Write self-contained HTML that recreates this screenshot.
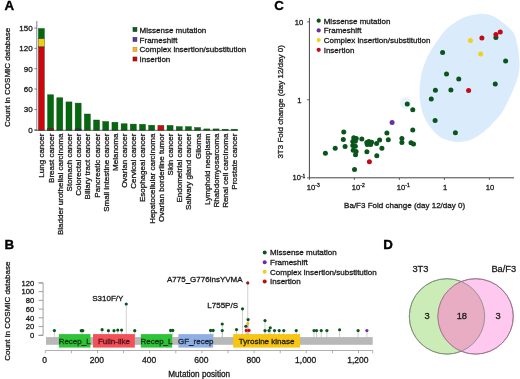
<!DOCTYPE html>
<html><head><meta charset="utf-8"><title>Figure</title>
<style>
html,body{margin:0;padding:0;background:#fff;}
body{width:520px;height:379px;overflow:hidden;}
svg{display:block;font-family:"Liberation Sans",Arial,sans-serif;fill:#1a1a1a;}
text{stroke:#1a1a1a;stroke-width:0.3px;paint-order:stroke;}
.t8{font-size:8px;}
.t7{font-size:7.6px;}
.t9{font-size:9.3px;}
.pl{font-size:13.3px;font-weight:bold;fill:#000;stroke:#000;stroke-width:0.35px;}
</style></head><body>
<svg width="520" height="379" viewBox="0 0 520 379">
<rect width="520" height="379" fill="#fff"/>

<g id="panelA">
<text class="pl" x="4.4" y="10.1">A</text>
<line x1="36.8" y1="21" x2="36.8" y2="130.4" stroke="#3a3f55" stroke-width="0.65"/>
<line x1="34.4" y1="129.80" x2="36.8" y2="129.80" stroke="#3a3f55" stroke-width="0.65"/>
<text class="t8" x="32.6" y="132.70" text-anchor="end">0</text>
<line x1="34.4" y1="109.44" x2="36.8" y2="109.44" stroke="#3a3f55" stroke-width="0.65"/>
<text class="t8" x="32.6" y="112.34" text-anchor="end">30</text>
<line x1="34.4" y1="89.08" x2="36.8" y2="89.08" stroke="#3a3f55" stroke-width="0.65"/>
<text class="t8" x="32.6" y="91.98" text-anchor="end">60</text>
<line x1="34.4" y1="68.72" x2="36.8" y2="68.72" stroke="#3a3f55" stroke-width="0.65"/>
<text class="t8" x="32.6" y="71.62" text-anchor="end">90</text>
<line x1="34.4" y1="48.36" x2="36.8" y2="48.36" stroke="#3a3f55" stroke-width="0.65"/>
<text class="t8" x="32.6" y="51.26" text-anchor="end">120</text>
<line x1="34.4" y1="28.00" x2="36.8" y2="28.00" stroke="#3a3f55" stroke-width="0.65"/>
<text class="t8" x="32.6" y="30.90" text-anchor="end">150</text>
<text class="t8" transform="translate(10.3,77.4) rotate(-90)" text-anchor="middle">Count in COSMIC database</text>
<g stroke="#043c0a" stroke-opacity="0.75" stroke-width="0.5">
<rect x="38.40" y="28.5" width="6.0" height="10.25" fill="#05680f"/>
<rect x="38.40" y="38.75" width="6.0" height="8.15" fill="#f2cc1a"/>
<rect x="38.40" y="46.9" width="6.0" height="83.40" fill="#d0060e"/>
<rect x="47.59" y="94.75" width="6.0" height="35.55" fill="#05680f"/>
<rect x="47.59" y="128.6" width="6.0" height="1.70" fill="#a01818"/>
<rect x="56.78" y="97.75" width="6.0" height="32.55" fill="#05680f"/>
<rect x="65.97" y="101.9" width="6.0" height="28.40" fill="#05680f"/>
<rect x="75.16" y="103.1" width="6.0" height="27.20" fill="#05680f"/>
<rect x="75.16" y="128.9" width="6.0" height="1.40" fill="#3a2a6a"/>
<rect x="84.35" y="114" width="6.0" height="16.30" fill="#05680f"/>
<rect x="93.54" y="120" width="6.0" height="10.30" fill="#05680f"/>
<rect x="102.73" y="121.5" width="6.0" height="8.80" fill="#05680f"/>
<rect x="111.92" y="122.25" width="6.0" height="8.05" fill="#05680f"/>
<rect x="121.11" y="123.75" width="6.0" height="6.55" fill="#05680f"/>
<rect x="130.30" y="124.1" width="6.0" height="6.20" fill="#05680f"/>
<rect x="139.49" y="124.3" width="6.0" height="6.00" fill="#05680f"/>
<rect x="148.68" y="125.2" width="6.0" height="5.10" fill="#05680f"/>
<rect x="157.87" y="125.4" width="6.0" height="4.90" fill="#d0060e"/>
<rect x="167.06" y="125.4" width="6.0" height="4.90" fill="#05680f"/>
<rect x="176.25" y="126.6" width="6.0" height="3.70" fill="#05680f"/>
<rect x="185.44" y="126.6" width="6.0" height="3.70" fill="#05680f"/>
<rect x="194.63" y="127.5" width="6.0" height="2.80" fill="#05680f"/>
<rect x="203.82" y="128.9" width="6.0" height="1.40" fill="#05680f"/>
<rect x="213.01" y="128.9" width="6.0" height="1.40" fill="#05680f"/>
<rect x="222.20" y="129.2" width="6.0" height="1.10" fill="#05680f"/>
<rect x="231.39" y="129.2" width="6.0" height="1.10" fill="#05680f"/>
</g>
<text class="t8" transform="translate(44.40,133.6) rotate(-90)" text-anchor="end">Lung cancer</text>
<text class="t8" transform="translate(53.59,133.6) rotate(-90)" text-anchor="end">Breast cancer</text>
<text class="t8" transform="translate(62.78,133.6) rotate(-90)" text-anchor="end">Bladder urothelial carcinoma</text>
<text class="t8" transform="translate(71.97,133.6) rotate(-90)" text-anchor="end">Stomach cancer</text>
<text class="t8" transform="translate(81.16,133.6) rotate(-90)" text-anchor="end">Colorectal cancer</text>
<text class="t8" transform="translate(90.35,133.6) rotate(-90)" text-anchor="end">Biliary tract cancer</text>
<text class="t8" transform="translate(99.54,133.6) rotate(-90)" text-anchor="end">Pancreatic cancer</text>
<text class="t8" transform="translate(108.73,133.6) rotate(-90)" text-anchor="end">Small intestine cancer</text>
<text class="t8" transform="translate(117.92,133.6) rotate(-90)" text-anchor="end">Melanoma</text>
<text class="t8" transform="translate(127.11,133.6) rotate(-90)" text-anchor="end">Ovarian cancer</text>
<text class="t8" transform="translate(136.30,133.6) rotate(-90)" text-anchor="end">Cervical cancer</text>
<text class="t8" transform="translate(145.49,133.6) rotate(-90)" text-anchor="end">Esophageal cancer</text>
<text class="t8" transform="translate(154.68,133.6) rotate(-90)" text-anchor="end">Hepatocellular carcinoma</text>
<text class="t8" transform="translate(163.87,133.6) rotate(-90)" text-anchor="end">Ovarian borderline tumor</text>
<text class="t8" transform="translate(173.06,133.6) rotate(-90)" text-anchor="end">Skin cancer</text>
<text class="t8" transform="translate(182.25,133.6) rotate(-90)" text-anchor="end">Endometrial cancer</text>
<text class="t8" transform="translate(191.44,133.6) rotate(-90)" text-anchor="end">Salivary gland cancer</text>
<text class="t8" transform="translate(200.63,133.6) rotate(-90)" text-anchor="end">Glioma</text>
<text class="t8" transform="translate(209.82,133.6) rotate(-90)" text-anchor="end">Lymphoid neoplasm</text>
<text class="t8" transform="translate(219.01,133.6) rotate(-90)" text-anchor="end">Rhabdomyosarcoma</text>
<text class="t8" transform="translate(228.20,133.6) rotate(-90)" text-anchor="end">Renal cell carcinoma</text>
<text class="t8" transform="translate(237.39,133.6) rotate(-90)" text-anchor="end">Prostate cancer</text>
<line x1="34.4" y1="130.3" x2="238" y2="130.3" stroke="#222" stroke-width="0.7"/>
<rect x="133" y="27.50" width="3.9" height="4.0" fill="#0d5e1c" stroke="#0a3a12" stroke-width="0.6"/>
<text class="t8" x="139.6" y="33.40">Missense mutation</text>
<rect x="133" y="37.40" width="3.9" height="4.0" fill="#5a3c9a" stroke="#3a2a6a" stroke-width="0.6"/>
<text class="t8" x="139.6" y="42.85">Frameshift</text>
<rect x="133" y="47.30" width="3.9" height="4.0" fill="#f5b92a" stroke="#c08a20" stroke-width="0.6"/>
<text class="t8" x="139.6" y="52.30">Complex insertion/substitution</text>
<rect x="133" y="57.00" width="3.9" height="4.0" fill="#b41414" stroke="#7a0c0c" stroke-width="0.6"/>
<text class="t8" x="139.6" y="61.75">Insertion</text>
</g>
<g id="panelC">
<text class="pl" x="274.3" y="10.4">C</text>
<path d="M480.0,13.9 C482.9,13.7 485.1,14.0 487.7,14.6 C490.3,15.2 492.8,16.0 495.4,17.3 C497.9,18.7 500.4,20.6 503.0,22.7 C505.6,24.8 508.8,27.4 510.8,29.6 C512.8,31.8 513.8,32.9 515.0,36.0 C516.2,39.1 517.3,44.0 518.0,48.0 C518.7,52.0 519.1,56.3 519.3,60.0 C519.5,63.7 519.6,66.7 519.2,70.0 C518.8,73.3 518.2,76.2 517.0,80.0 C515.8,83.8 514.0,88.0 512.0,92.5 C510.0,97.0 507.0,103.2 505.0,107.0 C503.0,110.8 502.5,111.8 500.0,115.0 C497.5,118.2 493.3,123.0 490.0,126.2 C486.7,129.5 483.3,132.1 480.0,134.4 C476.7,136.7 473.3,138.8 470.0,140.0 C466.7,141.2 462.9,141.7 460.0,141.9 C457.1,142.1 455.8,142.1 452.5,141.2 C449.2,140.4 444.0,139.6 440.0,136.9 C436.0,134.2 431.7,129.1 428.8,125.0 C425.8,120.9 424.0,116.7 422.5,112.5 C421.0,108.3 420.4,103.8 419.9,100.0 C419.4,96.2 419.4,94.2 419.6,90.0 C419.8,85.8 420.4,79.6 421.2,75.0 C422.1,70.4 423.5,66.4 425.0,62.5 C426.5,58.6 428.0,55.5 430.3,51.5 C432.6,47.5 435.9,42.6 438.8,38.8 C441.6,34.9 444.0,31.3 447.5,28.1 C451.0,24.9 456.2,21.5 460.0,19.4 C463.8,17.3 466.7,16.5 470.0,15.6 C473.3,14.7 477.1,14.1 480.0,13.9Z" fill="#daebfc"/>
<circle cx="405.8" cy="102.8" r="5.9" fill="#ebf2fb"/>
<line x1="309.4" y1="18" x2="309.4" y2="178.3" stroke="#444" stroke-width="1"/>
<line x1="308.9" y1="177.8" x2="514" y2="177.8" stroke="#444" stroke-width="1"/>
<line x1="307.0" y1="21.9" x2="309.4" y2="21.9" stroke="#444" stroke-width="0.8"/>
<text class="t7" x="303.3" y="24.6" text-anchor="end">10</text>
<line x1="307.0" y1="99.8" x2="309.4" y2="99.8" stroke="#444" stroke-width="0.8"/>
<text class="t7" x="301.6" y="102.5" text-anchor="end">1</text>
<line x1="307.0" y1="177.8" x2="309.4" y2="177.8" stroke="#444" stroke-width="0.8"/>
<text class="t7" x="305.4" y="180.4" text-anchor="end">10<tspan dy="-2.6" font-size="5px">-1</tspan></text>
<line x1="309.4" y1="177.8" x2="309.4" y2="180.0" stroke="#444" stroke-width="0.8"/>
<text class="t7" x="306.8" y="189.9">10<tspan dy="-2.6" font-size="5px">-3</tspan></text>
<line x1="354.4" y1="177.8" x2="354.4" y2="180.0" stroke="#444" stroke-width="0.8"/>
<text class="t7" x="351.8" y="189.9">10<tspan dy="-2.6" font-size="5px">-2</tspan></text>
<line x1="399.4" y1="177.8" x2="399.4" y2="180.0" stroke="#444" stroke-width="0.8"/>
<text class="t7" x="396.8" y="189.9">10<tspan dy="-2.6" font-size="5px">-1</tspan></text>
<line x1="444.4" y1="177.8" x2="444.4" y2="180.0" stroke="#444" stroke-width="0.8"/>
<text class="t7" x="445.0" y="189.9" text-anchor="middle">1</text>
<line x1="489.4" y1="177.8" x2="489.4" y2="180.0" stroke="#444" stroke-width="0.8"/>
<text class="t7" x="490.0" y="189.9" text-anchor="middle">10</text>
<text class="t8" x="404.6" y="207.7" text-anchor="middle">Ba/F3 Fold change (day 12/day 0)</text>
<text class="t8" transform="translate(282.7,101.9) rotate(-90)" text-anchor="middle">3T3 Fold change (day 12/day 0)</text>
<circle cx="325.4" cy="153.3" r="2.5" fill="#0a551b"/>
<circle cx="335.2" cy="148.3" r="2.5" fill="#0a551b"/>
<circle cx="343.75" cy="132" r="2.5" fill="#0a551b"/>
<circle cx="343.3" cy="139.6" r="2.5" fill="#0a551b"/>
<circle cx="345.1" cy="146.4" r="2.5" fill="#0a551b"/>
<circle cx="353.75" cy="137.8" r="2.5" fill="#0a551b"/>
<circle cx="356.25" cy="138.5" r="2.5" fill="#0a551b"/>
<circle cx="352.8" cy="141.6" r="2.5" fill="#0a551b"/>
<circle cx="355.3" cy="141.25" r="2.5" fill="#0a551b"/>
<circle cx="352.8" cy="145.4" r="2.5" fill="#0a551b"/>
<circle cx="355.3" cy="146.2" r="2.5" fill="#0a551b"/>
<circle cx="353.2" cy="150.2" r="2.5" fill="#0a551b"/>
<circle cx="356.1" cy="151.6" r="2.5" fill="#0a551b"/>
<circle cx="355.5" cy="154.8" r="2.5" fill="#0a551b"/>
<circle cx="361.8" cy="139" r="2.5" fill="#0a551b"/>
<circle cx="366.8" cy="142.5" r="2.5" fill="#0a551b"/>
<circle cx="368.75" cy="141.6" r="2.5" fill="#0a551b"/>
<circle cx="367.3" cy="144.6" r="2.5" fill="#0a551b"/>
<circle cx="371.6" cy="142.2" r="2.5" fill="#0a551b"/>
<circle cx="370.6" cy="144.4" r="2.5" fill="#0a551b"/>
<circle cx="376.6" cy="143.4" r="2.5" fill="#0a551b"/>
<circle cx="379.6" cy="139.9" r="2.5" fill="#0a551b"/>
<circle cx="366.9" cy="151.8" r="2.5" fill="#0a551b"/>
<circle cx="381.9" cy="148.2" r="2.5" fill="#0a551b"/>
<circle cx="376.8" cy="155.7" r="2.5" fill="#0a551b"/>
<circle cx="386.9" cy="133.1" r="2.5" fill="#0a551b"/>
<circle cx="388.3" cy="139.8" r="2.5" fill="#0a551b"/>
<circle cx="354.5" cy="169.5" r="2.5" fill="#0a551b"/>
<circle cx="401.9" cy="138.5" r="2.5" fill="#0a551b"/>
<circle cx="401.9" cy="142.5" r="2.5" fill="#0a551b"/>
<circle cx="411" cy="142.75" r="2.5" fill="#0a551b"/>
<circle cx="413.5" cy="144" r="2.5" fill="#0a551b"/>
<circle cx="412.75" cy="130.1" r="2.5" fill="#0a551b"/>
<circle cx="412.75" cy="109.75" r="2.5" fill="#0a551b"/>
<circle cx="407.25" cy="104.1" r="2.5" fill="#0a551b"/>
<circle cx="442.6" cy="52.5" r="2.5" fill="#0a551b"/>
<circle cx="446.5" cy="74.1" r="2.5" fill="#0a551b"/>
<circle cx="458.75" cy="79" r="2.5" fill="#0a551b"/>
<circle cx="435.4" cy="90.25" r="2.5" fill="#0a551b"/>
<circle cx="450.9" cy="90" r="2.5" fill="#0a551b"/>
<circle cx="431.25" cy="99" r="2.5" fill="#0a551b"/>
<circle cx="435.1" cy="120.6" r="2.5" fill="#0a551b"/>
<circle cx="455.4" cy="132.75" r="2.5" fill="#0a551b"/>
<circle cx="495.25" cy="84" r="2.5" fill="#0a551b"/>
<circle cx="505.6" cy="61" r="2.5" fill="#0a551b"/>
<circle cx="495.9" cy="37.6" r="2.5" fill="#0a551b"/>
<circle cx="369.4" cy="161.8" r="2.5" fill="#c40a18"/>
<circle cx="468.6" cy="90.6" r="2.5" fill="#c40a18"/>
<circle cx="481.9" cy="38.1" r="2.5" fill="#c40a18"/>
<circle cx="495.9" cy="34.4" r="2.5" fill="#c40a18"/>
<circle cx="500.25" cy="31.9" r="2.5" fill="#c40a18"/>
<circle cx="480.6" cy="54" r="2.5" fill="#efd21c"/>
<circle cx="470.4" cy="40.5" r="2.5" fill="#efd21c"/>
<circle cx="392.1" cy="122.5" r="2.5" fill="#6a2fa0"/>
<circle cx="318.7" cy="20.70" r="2.1" fill="#0a551b"/>
<text class="t8" x="323.7" y="23.50">Missense mutation</text>
<circle cx="318.7" cy="30.40" r="2.1" fill="#6a2fa0"/>
<text class="t8" x="323.7" y="33.20">Frameshift</text>
<circle cx="318.7" cy="40.10" r="2.1" fill="#efd21c"/>
<text class="t8" x="323.7" y="42.90">Complex insertion/substitution</text>
<circle cx="318.7" cy="49.80" r="2.1" fill="#c40a18"/>
<text class="t8" x="323.7" y="52.60">Insertion</text>
</g>
<g id="panelB">
<text class="pl" x="4.4" y="248.5">B</text>
<polyline points="38.6,282.9 43.1,282.9 43.1,335.3 38.6,335.3" fill="none" stroke="#8a8a8a" stroke-width="0.8"/>
<line x1="38.6" y1="335.30" x2="43.1" y2="335.30" stroke="#8a8a8a" stroke-width="0.8"/>
<text class="t7" x="34.2" y="338.00" text-anchor="end">0</text>
<line x1="38.6" y1="326.57" x2="43.1" y2="326.57" stroke="#8a8a8a" stroke-width="0.8"/>
<text class="t7" x="34.2" y="329.27" text-anchor="end">20</text>
<line x1="38.6" y1="317.83" x2="43.1" y2="317.83" stroke="#8a8a8a" stroke-width="0.8"/>
<text class="t7" x="34.2" y="320.53" text-anchor="end">40</text>
<line x1="38.6" y1="309.10" x2="43.1" y2="309.10" stroke="#8a8a8a" stroke-width="0.8"/>
<text class="t7" x="34.2" y="311.80" text-anchor="end">60</text>
<line x1="38.6" y1="300.37" x2="43.1" y2="300.37" stroke="#8a8a8a" stroke-width="0.8"/>
<text class="t7" x="34.2" y="303.07" text-anchor="end">80</text>
<line x1="38.6" y1="291.63" x2="43.1" y2="291.63" stroke="#8a8a8a" stroke-width="0.8"/>
<text class="t7" x="34.2" y="294.33" text-anchor="end">100</text>
<line x1="38.6" y1="282.90" x2="43.1" y2="282.90" stroke="#8a8a8a" stroke-width="0.8"/>
<text class="t7" x="34.2" y="285.60" text-anchor="end">120</text>
<text class="t8" transform="translate(10.3,311.25) rotate(-90)" text-anchor="middle">Count in COSMIC database</text>
<line x1="45.3" y1="350.5" x2="372.7" y2="350.5" stroke="#9a9a9a" stroke-width="0.8"/>
<line x1="45.30" y1="350.5" x2="45.30" y2="353.3" stroke="#9a9a9a" stroke-width="0.8"/>
<line x1="71.40" y1="350.5" x2="71.40" y2="353.3" stroke="#9a9a9a" stroke-width="0.8"/>
<line x1="97.50" y1="350.5" x2="97.50" y2="353.3" stroke="#9a9a9a" stroke-width="0.8"/>
<line x1="123.60" y1="350.5" x2="123.60" y2="353.3" stroke="#9a9a9a" stroke-width="0.8"/>
<line x1="149.70" y1="350.5" x2="149.70" y2="353.3" stroke="#9a9a9a" stroke-width="0.8"/>
<line x1="175.80" y1="350.5" x2="175.80" y2="353.3" stroke="#9a9a9a" stroke-width="0.8"/>
<line x1="201.90" y1="350.5" x2="201.90" y2="353.3" stroke="#9a9a9a" stroke-width="0.8"/>
<line x1="228.00" y1="350.5" x2="228.00" y2="353.3" stroke="#9a9a9a" stroke-width="0.8"/>
<line x1="254.10" y1="350.5" x2="254.10" y2="353.3" stroke="#9a9a9a" stroke-width="0.8"/>
<line x1="280.20" y1="350.5" x2="280.20" y2="353.3" stroke="#9a9a9a" stroke-width="0.8"/>
<line x1="306.30" y1="350.5" x2="306.30" y2="353.3" stroke="#9a9a9a" stroke-width="0.8"/>
<line x1="332.40" y1="350.5" x2="332.40" y2="353.3" stroke="#9a9a9a" stroke-width="0.8"/>
<line x1="358.50" y1="350.5" x2="358.50" y2="353.3" stroke="#9a9a9a" stroke-width="0.8"/>
<line x1="372.7" y1="350.5" x2="372.7" y2="353.3" stroke="#9a9a9a" stroke-width="0.8"/>
<text x="44.70" y="363.4" text-anchor="middle" font-size="8.5px">0</text>
<text x="96.90" y="363.4" text-anchor="middle" font-size="8.5px">200</text>
<text x="149.10" y="363.4" text-anchor="middle" font-size="8.5px">400</text>
<text x="201.30" y="363.4" text-anchor="middle" font-size="8.5px">600</text>
<text x="253.50" y="363.4" text-anchor="middle" font-size="8.5px">800</text>
<text x="305.70" y="363.4" text-anchor="middle" font-size="8.5px">1,000</text>
<text x="357.90" y="363.4" text-anchor="middle" font-size="8.5px">1,200</text>
<text x="199.2" y="376.9" text-anchor="middle" font-size="8.2px">Mutation position</text>
<line x1="54.4" y1="330.6" x2="54.4" y2="338" stroke="#bdbdbd" stroke-width="0.7"/>
<line x1="81.25" y1="330.7" x2="81.25" y2="338" stroke="#bdbdbd" stroke-width="0.7"/>
<line x1="82.75" y1="330.7" x2="82.75" y2="338" stroke="#bdbdbd" stroke-width="0.7"/>
<line x1="102.1" y1="329.7" x2="102.1" y2="338" stroke="#bdbdbd" stroke-width="0.7"/>
<line x1="108.4" y1="330.7" x2="108.4" y2="338" stroke="#bdbdbd" stroke-width="0.7"/>
<line x1="114" y1="330.7" x2="114" y2="338" stroke="#bdbdbd" stroke-width="0.7"/>
<line x1="117.75" y1="330.1" x2="117.75" y2="338" stroke="#bdbdbd" stroke-width="0.7"/>
<line x1="121.6" y1="330.1" x2="121.6" y2="338" stroke="#bdbdbd" stroke-width="0.7"/>
<line x1="126.25" y1="304" x2="126.25" y2="338" stroke="#bdbdbd" stroke-width="0.7"/>
<line x1="134.75" y1="330.7" x2="134.75" y2="338" stroke="#bdbdbd" stroke-width="0.7"/>
<line x1="170.6" y1="330.4" x2="170.6" y2="338" stroke="#bdbdbd" stroke-width="0.7"/>
<line x1="172.75" y1="330.4" x2="172.75" y2="338" stroke="#bdbdbd" stroke-width="0.7"/>
<line x1="210.6" y1="330.4" x2="210.6" y2="338" stroke="#bdbdbd" stroke-width="0.7"/>
<line x1="213.1" y1="330.4" x2="213.1" y2="338" stroke="#bdbdbd" stroke-width="0.7"/>
<line x1="222.25" y1="330.6" x2="222.25" y2="338" stroke="#bdbdbd" stroke-width="0.7"/>
<line x1="222.25" y1="324" x2="222.25" y2="338" stroke="#bdbdbd" stroke-width="0.7"/>
<line x1="236.5" y1="329.6" x2="236.5" y2="338" stroke="#bdbdbd" stroke-width="0.7"/>
<line x1="242.5" y1="308.8" x2="242.5" y2="338" stroke="#bdbdbd" stroke-width="0.7"/>
<line x1="247.75" y1="282.9" x2="247.75" y2="338" stroke="#bdbdbd" stroke-width="0.7"/>
<line x1="248.1" y1="319.6" x2="248.1" y2="338" stroke="#bdbdbd" stroke-width="0.7"/>
<line x1="247.75" y1="323.5" x2="247.75" y2="338" stroke="#bdbdbd" stroke-width="0.7"/>
<line x1="245.9" y1="326.25" x2="245.9" y2="338" stroke="#bdbdbd" stroke-width="0.7"/>
<line x1="246.25" y1="330.4" x2="246.25" y2="338" stroke="#bdbdbd" stroke-width="0.7"/>
<line x1="249" y1="330.4" x2="249" y2="338" stroke="#bdbdbd" stroke-width="0.7"/>
<line x1="265" y1="330.6" x2="265" y2="338" stroke="#bdbdbd" stroke-width="0.7"/>
<line x1="265" y1="320.6" x2="265" y2="338" stroke="#bdbdbd" stroke-width="0.7"/>
<line x1="269" y1="330.6" x2="269" y2="338" stroke="#bdbdbd" stroke-width="0.7"/>
<line x1="270.25" y1="327.75" x2="270.25" y2="338" stroke="#bdbdbd" stroke-width="0.7"/>
<line x1="274.5" y1="330.6" x2="274.5" y2="338" stroke="#bdbdbd" stroke-width="0.7"/>
<line x1="279.2" y1="330.6" x2="279.2" y2="338" stroke="#bdbdbd" stroke-width="0.7"/>
<line x1="283.75" y1="330.6" x2="283.75" y2="338" stroke="#bdbdbd" stroke-width="0.7"/>
<line x1="296.25" y1="330.6" x2="296.25" y2="338" stroke="#bdbdbd" stroke-width="0.7"/>
<line x1="314" y1="330.6" x2="314" y2="338" stroke="#bdbdbd" stroke-width="0.7"/>
<line x1="316.5" y1="330.6" x2="316.5" y2="338" stroke="#bdbdbd" stroke-width="0.7"/>
<line x1="321.25" y1="330.6" x2="321.25" y2="338" stroke="#bdbdbd" stroke-width="0.7"/>
<line x1="326.9" y1="330.6" x2="326.9" y2="338" stroke="#bdbdbd" stroke-width="0.7"/>
<line x1="339.6" y1="329.75" x2="339.6" y2="338" stroke="#bdbdbd" stroke-width="0.7"/>
<line x1="358.1" y1="330.6" x2="358.1" y2="338" stroke="#bdbdbd" stroke-width="0.7"/>
<line x1="366.9" y1="330.6" x2="366.9" y2="338" stroke="#bdbdbd" stroke-width="0.7"/>
<rect x="46" y="337.1" width="326.7" height="7.7" fill="#b8b8b8"/>
<rect x="58.87" y="334.1" width="31.58" height="13.5" fill="#2fc436"/>
<text class="t8" x="74.66" y="343.8" text-anchor="middle" fill="#0a4a10" stroke="#0a4a10">Recep_L</text>
<rect x="93.06" y="334.1" width="41.76" height="13.5" fill="#f4505a"/>
<text class="t8" x="113.94" y="343.8" text-anchor="middle" fill="#6a0a12" stroke="#6a0a12">Fulin-like</text>
<rect x="140.83" y="334.1" width="31.32" height="13.5" fill="#2fc436"/>
<text class="t8" x="156.49" y="343.8" text-anchor="middle" fill="#0a4a10" stroke="#0a4a10">Recep_L</text>
<rect x="178.41" y="334.1" width="34.71" height="13.5" fill="#8faee2"/>
<text class="t8" x="195.77" y="343.8" text-anchor="middle" fill="#16284e" stroke="#16284e">GF_recep</text>
<rect x="233.22" y="334.1" width="66.82" height="13.5" fill="#f7c512"/>
<text class="t8" x="266.63" y="343.8" text-anchor="middle" fill="#2a2000" stroke="#2a2000">Tyrosine kinase</text>
<circle cx="54.4" cy="330.6" r="1.6" fill="#0a551b"/>
<circle cx="81.25" cy="330.7" r="1.6" fill="#0a551b"/>
<circle cx="82.75" cy="330.7" r="1.6" fill="#0a551b"/>
<circle cx="102.1" cy="329.7" r="1.6" fill="#0a551b"/>
<circle cx="108.4" cy="330.7" r="1.6" fill="#0a551b"/>
<circle cx="114" cy="330.7" r="1.6" fill="#0a551b"/>
<circle cx="117.75" cy="330.1" r="1.6" fill="#0a551b"/>
<circle cx="121.6" cy="330.1" r="1.6" fill="#0a551b"/>
<circle cx="126.25" cy="304" r="1.6" fill="#0a551b"/>
<circle cx="134.75" cy="330.7" r="1.6" fill="#0a551b"/>
<circle cx="170.6" cy="330.4" r="1.6" fill="#0a551b"/>
<circle cx="172.75" cy="330.4" r="1.6" fill="#0a551b"/>
<circle cx="210.6" cy="330.4" r="1.6" fill="#0a551b"/>
<circle cx="213.1" cy="330.4" r="1.6" fill="#0a551b"/>
<circle cx="222.25" cy="330.6" r="1.6" fill="#0a551b"/>
<circle cx="222.25" cy="324" r="1.6" fill="#0a551b"/>
<circle cx="236.5" cy="329.6" r="1.6" fill="#0a551b"/>
<circle cx="242.5" cy="308.8" r="1.6" fill="#0a551b"/>
<circle cx="247.75" cy="282.9" r="1.6" fill="#8a1a22"/>
<circle cx="248.1" cy="319.6" r="1.6" fill="#0a551b"/>
<circle cx="247.75" cy="323.5" r="1.6" fill="#f0b81a"/>
<circle cx="245.9" cy="326.25" r="1.6" fill="#0a551b"/>
<circle cx="246.25" cy="330.4" r="1.6" fill="#d0060e"/>
<circle cx="249" cy="330.4" r="1.6" fill="#d0060e"/>
<circle cx="265" cy="330.6" r="1.6" fill="#0a551b"/>
<circle cx="265" cy="320.6" r="1.6" fill="#0a551b"/>
<circle cx="269" cy="330.6" r="1.6" fill="#0a551b"/>
<circle cx="270.25" cy="327.75" r="1.6" fill="#0a551b"/>
<circle cx="274.5" cy="330.6" r="1.6" fill="#0a551b"/>
<circle cx="279.2" cy="330.6" r="1.6" fill="#0a551b"/>
<circle cx="283.75" cy="330.6" r="1.6" fill="#0a551b"/>
<circle cx="296.25" cy="330.6" r="1.6" fill="#0a551b"/>
<circle cx="314" cy="330.6" r="1.6" fill="#0a551b"/>
<circle cx="316.5" cy="330.6" r="1.6" fill="#0a551b"/>
<circle cx="321.25" cy="330.6" r="1.6" fill="#0a551b"/>
<circle cx="326.9" cy="330.6" r="1.6" fill="#0a551b"/>
<circle cx="339.6" cy="329.75" r="1.6" fill="#0a551b"/>
<circle cx="358.1" cy="330.6" r="1.6" fill="#0a551b"/>
<circle cx="366.9" cy="330.6" r="1.6" fill="#6a2fa0"/>
<text class="t8" x="123.4" y="301.3" text-anchor="end">S310F/Y</text>
<text class="t8" x="242.6" y="281.7" text-anchor="end">A775_G776insYVMA</text>
<text class="t8" x="238" y="307.9" text-anchor="end">L755P/S</text>
<circle cx="264.7" cy="252.60" r="2.0" fill="#0a551b"/>
<text class="t8" x="270" y="255.40">Missense mutation</text>
<circle cx="264.7" cy="262.20" r="2.0" fill="#6a2fa0"/>
<text class="t8" x="270" y="265.00">Frameshift</text>
<circle cx="264.7" cy="271.80" r="2.0" fill="#f2cc1a"/>
<text class="t8" x="270" y="274.60">Complex insertion/substitution</text>
<circle cx="264.7" cy="281.40" r="2.0" fill="#d0060e"/>
<text class="t8" x="270" y="284.20">Insertion</text>
</g>
<g id="panelD">
<text class="pl" x="383.2" y="248.5">D</text>
<circle cx="447" cy="316.4" r="37.7" fill="#cbecb6" stroke="#6f9a70" stroke-width="0.8"/>
<circle cx="475.6" cy="316.4" r="37.7" fill="#fec8ef" fill-opacity="1" stroke="#9a6f8c" stroke-width="0.8"/>
<clipPath id="cl"><circle cx="447" cy="316.4" r="37.7"/></clipPath>
<circle cx="475.6" cy="316.4" r="37.7" fill="#e8adc2" clip-path="url(#cl)"/>
<circle cx="447" cy="316.4" r="37.7" fill="none" stroke="#7d8a78" stroke-width="0.8"/>
<circle cx="475.6" cy="316.4" r="37.7" fill="none" stroke="#9a6f8c" stroke-width="0.8"/>
<text class="t9" x="427" y="319.2" text-anchor="middle">3</text>
<text class="t9" x="461.8" y="319.2" text-anchor="middle">18</text>
<text class="t9" x="498" y="319.2" text-anchor="middle">3</text>
<text class="t9" x="420.4" y="272.4" text-anchor="middle">3T3</text>
<text class="t9" x="503.8" y="272.4" text-anchor="middle">Ba/F3</text>
</g>
</svg></body></html>
